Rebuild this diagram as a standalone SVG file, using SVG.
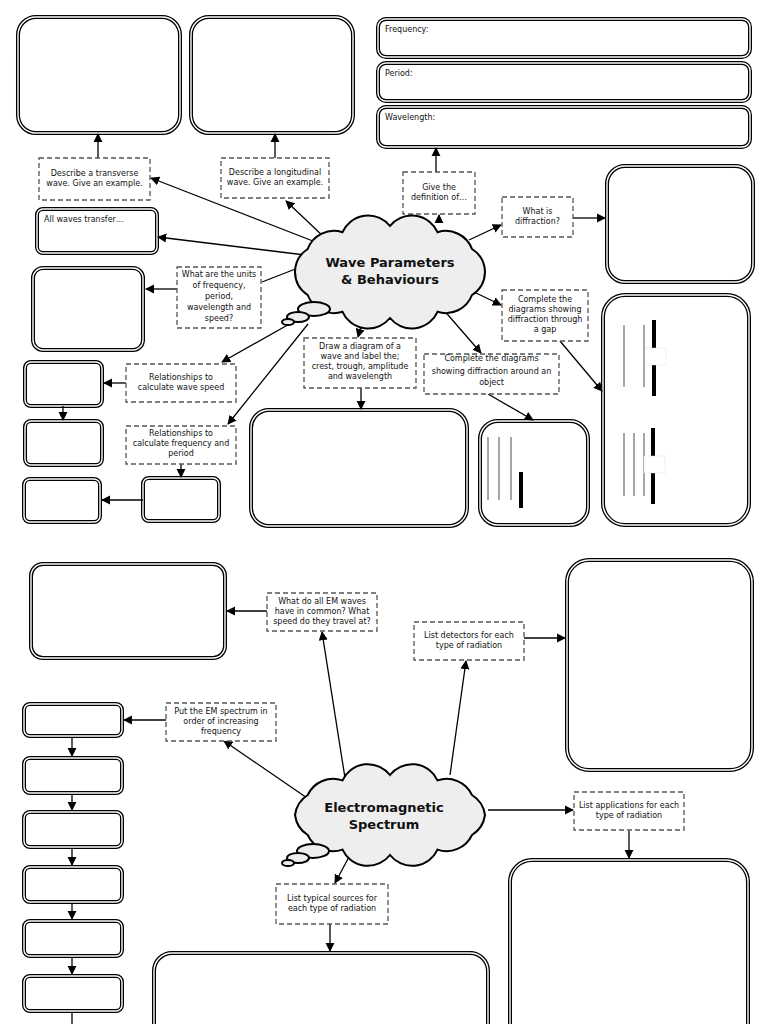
<svg xmlns="http://www.w3.org/2000/svg" width="768" height="1024" viewBox="0 0 768 1024">
<defs>
<marker id="ah" viewBox="0 0 10 10" refX="9" refY="5" markerWidth="7" markerHeight="7" orient="auto-start-reverse"><path d="M0,0 L10,5 L0,10 z" fill="#000"/></marker>
</defs>
<style>
.dbl{fill:#fff;stroke:#000;stroke-width:4}
.dbi{fill:none;stroke:#fff;stroke-width:1.4}
.dash{fill:#fff;stroke:#555;stroke-width:1.3;stroke-dasharray:5,3}
.t{font-family:"DejaVu Sans",sans-serif;font-size:8px;fill:#111;text-anchor:middle}
.tl{font-family:"DejaVu Sans",sans-serif;font-size:8px;fill:#111}
.title{font-family:"DejaVu Sans",sans-serif;font-size:13px;font-weight:bold;fill:#111;text-anchor:middle}
.cl{fill:#eee;stroke:#000;stroke-width:2}
.c path,.c line{stroke:#000;stroke-width:1.3;fill:none}
.g{stroke:#888;stroke-width:1.5}
.k{stroke:#000;stroke-width:4}
</style>
<rect width="768" height="1024" fill="#fff"/>
<g id="boxes">
<g id="bA"><rect class="dbl" x="18" y="17" width="162" height="116" rx="18"/><rect class="dbi" x="18" y="17" width="162" height="116" rx="18"/></g>
<g id="bB"><rect class="dbl" x="191" y="17" width="162" height="116" rx="18"/><rect class="dbi" x="191" y="17" width="162" height="116" rx="18"/></g>
<g id="freq"><rect class="dbl" x="378" y="19" width="372" height="38" rx="8"/><rect class="dbi" x="378" y="19" width="372" height="38" rx="8"/><text class="tl" x="385" y="32">Frequency:</text></g>
<g id="period"><rect class="dbl" x="378" y="63" width="372" height="38" rx="8"/><rect class="dbi" x="378" y="63" width="372" height="38" rx="8"/><text class="tl" x="385" y="76">Period:</text></g>
<g id="wavelength"><rect class="dbl" x="378" y="107" width="372" height="40" rx="8"/><rect class="dbi" x="378" y="107" width="372" height="40" rx="8"/><text class="tl" x="385" y="120">Wavelength:</text></g>
<g id="bDiff"><rect class="dbl" x="607" y="166" width="146" height="116" rx="18"/><rect class="dbi" x="607" y="166" width="146" height="116" rx="18"/></g>
<g id="allwaves"><rect class="dbl" x="37" y="209" width="120" height="44" rx="6"/><rect class="dbi" x="37" y="209" width="120" height="44" rx="6"/><text class="tl" x="44" y="222">All waves transfer…</text></g>
<g id="bUnits"><rect class="dbl" x="33" y="268" width="110" height="82" rx="10"/><rect class="dbi" x="33" y="268" width="110" height="82" rx="10"/></g>
<g id="s1"><rect class="dbl" x="25" y="362" width="77" height="44" rx="6"/><rect class="dbi" x="25" y="362" width="77" height="44" rx="6"/></g>
<g id="s2"><rect class="dbl" x="25" y="421" width="77" height="44" rx="6"/><rect class="dbi" x="25" y="421" width="77" height="44" rx="6"/></g>
<g id="s3"><rect class="dbl" x="24" y="479" width="76" height="43" rx="6"/><rect class="dbi" x="24" y="479" width="76" height="43" rx="6"/></g>
<g id="s4"><rect class="dbl" x="143" y="478" width="76" height="43" rx="6"/><rect class="dbi" x="143" y="478" width="76" height="43" rx="6"/></g>
<g id="bWave"><rect class="dbl" x="251" y="410" width="216" height="116" rx="18"/><rect class="dbi" x="251" y="410" width="216" height="116" rx="18"/></g>
<g id="bObj"><rect class="dbl" x="480" y="421" width="108" height="104" rx="18"/><rect class="dbi" x="480" y="421" width="108" height="104" rx="18"/>
<line class="g" x1="488" y1="437" x2="488" y2="500"/><line class="g" x1="499" y1="437" x2="499" y2="500"/><line class="g" x1="511" y1="437" x2="511" y2="500"/><line class="k" x1="521" y1="472" x2="521" y2="508"/></g>
<g id="bGap"><rect class="dbl" x="603" y="295" width="146" height="230" rx="22"/><rect class="dbi" x="603" y="295" width="146" height="230" rx="22"/>
<line class="g" x1="624" y1="325" x2="624" y2="387"/><line class="g" x1="644" y1="325" x2="644" y2="387"/><line class="k" x1="654" y1="320" x2="654" y2="396"/><rect x="645" y="348" width="21" height="17" fill="#fff" stroke="#ddd" stroke-width="0.5"/>
<line class="g" x1="624" y1="433" x2="624" y2="496"/><line class="g" x1="634" y1="433" x2="634" y2="496"/><line class="g" x1="644" y1="433" x2="644" y2="496"/><line class="k" x1="653" y1="428" x2="653" y2="504"/><rect x="644" y="456" width="21" height="17" fill="#fff" stroke="#ddd" stroke-width="0.5"/></g>

<g id="bEM"><rect class="dbl" x="31" y="564" width="194" height="94" rx="12"/><rect class="dbi" x="31" y="564" width="194" height="94" rx="12"/></g>
<g id="bDet"><rect class="dbl" x="567" y="560" width="185" height="210" rx="22"/><rect class="dbi" x="567" y="560" width="185" height="210" rx="22"/></g>
<g id="c1"><rect class="dbl" x="24" y="704" width="98" height="32" rx="6"/><rect class="dbi" x="24" y="704" width="98" height="32" rx="6"/></g>
<g id="c2"><rect class="dbl" x="24" y="758" width="98" height="35" rx="6"/><rect class="dbi" x="24" y="758" width="98" height="35" rx="6"/></g>
<g id="c3"><rect class="dbl" x="24" y="812" width="98" height="35" rx="6"/><rect class="dbi" x="24" y="812" width="98" height="35" rx="6"/></g>
<g id="c4"><rect class="dbl" x="24" y="867" width="98" height="35" rx="6"/><rect class="dbi" x="24" y="867" width="98" height="35" rx="6"/></g>
<g id="c5"><rect class="dbl" x="24" y="921" width="98" height="35" rx="6"/><rect class="dbi" x="24" y="921" width="98" height="35" rx="6"/></g>
<g id="c6"><rect class="dbl" x="24" y="976" width="98" height="35" rx="6"/><rect class="dbi" x="24" y="976" width="98" height="35" rx="6"/></g>
<g id="bApp"><rect class="dbl" x="510" y="860" width="238" height="200" rx="22"/><rect class="dbi" x="510" y="860" width="238" height="200" rx="22"/></g>
<g id="bSrc"><rect class="dbl" x="154" y="953" width="334" height="100" rx="18"/><rect class="dbi" x="154" y="953" width="334" height="100" rx="18"/></g>
</g>

<g id="connectors" class="c">
<line x1="98" y1="158" x2="98" y2="134" marker-end="url(#ah)"/>
<line x1="275" y1="158" x2="275" y2="134" marker-end="url(#ah)"/>
<line x1="436" y1="172" x2="436" y2="148" marker-end="url(#ah)"/>
<line x1="573" y1="218" x2="605" y2="218" marker-end="url(#ah)"/>
<line x1="318" y1="243" x2="151" y2="178" marker-end="url(#ah)"/>
<line x1="325" y1="238" x2="286" y2="201" marker-end="url(#ah)"/>
<line x1="305" y1="255" x2="158" y2="237" marker-end="url(#ah)"/>
<line x1="298" y1="268" x2="262" y2="282"/>
<line x1="177" y1="289" x2="146" y2="289" marker-end="url(#ah)"/>
<line x1="300" y1="318" x2="222" y2="362" marker-end="url(#ah)"/>
<line x1="308" y1="324" x2="228" y2="424" marker-end="url(#ah)"/>
<line x1="364" y1="315" x2="358" y2="337" marker-end="url(#ah)"/>
<line x1="439" y1="221" x2="439" y2="215" marker-end="url(#ah)"/>
<line x1="469" y1="240" x2="501" y2="225" marker-end="url(#ah)"/>
<line x1="474" y1="292" x2="501" y2="305" marker-end="url(#ah)"/>
<line x1="442" y1="308" x2="481" y2="353" marker-end="url(#ah)"/>
<line x1="361" y1="388" x2="361" y2="409" marker-end="url(#ah)"/>
<line x1="488" y1="394" x2="533" y2="420" marker-end="url(#ah)"/>
<line x1="560" y1="341" x2="602" y2="391" marker-end="url(#ah)"/>
<line x1="126" y1="383" x2="104" y2="383" marker-end="url(#ah)"/>
<line x1="63" y1="406" x2="63" y2="420" marker-end="url(#ah)"/>
<line x1="181" y1="464" x2="181" y2="477" marker-end="url(#ah)"/>
<line x1="143" y1="500" x2="102" y2="500" marker-end="url(#ah)"/>

<line x1="345" y1="778" x2="322" y2="632" marker-end="url(#ah)"/>
<line x1="267" y1="611" x2="227" y2="611" marker-end="url(#ah)"/>
<line x1="450" y1="775" x2="466" y2="661" marker-end="url(#ah)"/>
<line x1="524" y1="638" x2="565" y2="638" marker-end="url(#ah)"/>
<line x1="310" y1="800" x2="224" y2="741" marker-end="url(#ah)"/>
<line x1="166" y1="720" x2="124" y2="720" marker-end="url(#ah)"/>
<line x1="488" y1="810" x2="573" y2="810" marker-end="url(#ah)"/>
<line x1="629" y1="831" x2="629" y2="858" marker-end="url(#ah)"/>
<line x1="350" y1="855" x2="335" y2="883" marker-end="url(#ah)"/>
<line x1="330" y1="924" x2="330" y2="951" marker-end="url(#ah)"/>
<line x1="72" y1="737" x2="72" y2="756" marker-end="url(#ah)"/>
<line x1="72" y1="794" x2="72" y2="810" marker-end="url(#ah)"/>
<line x1="72" y1="848" x2="72" y2="865" marker-end="url(#ah)"/>
<line x1="72" y1="903" x2="72" y2="919" marker-end="url(#ah)"/>
<line x1="72" y1="957" x2="72" y2="974" marker-end="url(#ah)"/>
<line x1="72" y1="1012" x2="72" y2="1024"/>
</g>

<g id="labels">
<g id="q1"><rect class="dash" x="39" y="158" width="111" height="42"/><text class="t" x="94.5" y="176">Describe a transverse</text><text class="t" x="94.5" y="186">wave. Give an example.</text></g>
<g id="q2"><rect class="dash" x="221" y="158" width="108" height="40"/><text class="t" x="275" y="175">Describe a longitudinal</text><text class="t" x="275" y="185">wave. Give an example.</text></g>
<g id="q3"><rect class="dash" x="403" y="172" width="72" height="42"/><text class="t" x="439" y="190">Give the</text><text class="t" x="439" y="200">definition of…</text></g>
<g id="q4"><rect class="dash" x="502" y="197" width="71" height="40"/><text class="t" x="537.5" y="214">What is</text><text class="t" x="537.5" y="224">diffraction?</text></g>
<g id="q5"><rect class="dash" x="177" y="267" width="84" height="61"/><text class="t" x="219" y="277">What are the units</text><text class="t" x="219" y="288">of frequency,</text><text class="t" x="219" y="299">period,</text><text class="t" x="219" y="310">wavelength and</text><text class="t" x="219" y="321">speed?</text></g>
<g id="q6"><rect class="dash" x="502" y="290" width="86" height="51"/><text class="t" x="545" y="302">Complete the</text><text class="t" x="545" y="312">diagrams showing</text><text class="t" x="545" y="322">diffraction through</text><text class="t" x="545" y="332">a gap</text></g>
<g id="q7"><rect class="dash" x="304" y="338" width="112" height="50"/><text class="t" x="360" y="349">Draw a diagram of a</text><text class="t" x="360" y="359">wave and label the;</text><text class="t" x="360" y="369">crest, trough, amplitude</text><text class="t" x="360" y="379">and wavelength</text></g>
<g id="q8"><rect class="dash" x="424" y="354" width="135" height="40"/><text class="t" x="491.5" y="361">Complete the diagrams</text><text class="t" x="491.5" y="374">showing diffraction around an</text><text class="t" x="491.5" y="385">object</text></g>
<g id="q9"><rect class="dash" x="126" y="364" width="110" height="38"/><text class="t" x="181" y="380">Relationships to</text><text class="t" x="181" y="390">calculate wave speed</text></g>
<g id="q10"><rect class="dash" x="126" y="426" width="110" height="38"/><text class="t" x="181" y="436">Relationships to</text><text class="t" x="181" y="446">calculate frequency and</text><text class="t" x="181" y="456">period</text></g>
<g id="q11"><rect class="dash" x="267" y="593" width="110" height="38"/><text class="t" x="322" y="604">What do all EM waves</text><text class="t" x="322" y="614">have in common? What</text><text class="t" x="322" y="624">speed do they travel at?</text></g>
<g id="q12"><rect class="dash" x="414" y="622" width="110" height="38"/><text class="t" x="469" y="638">List detectors for each</text><text class="t" x="469" y="648">type of radiation</text></g>
<g id="q13"><rect class="dash" x="166" y="703" width="110" height="38"/><text class="t" x="221" y="714">Put the EM spectrum in</text><text class="t" x="221" y="724">order of increasing</text><text class="t" x="221" y="734">frequency</text></g>
<g id="q14"><rect class="dash" x="574" y="792" width="110" height="38"/><text class="t" x="629" y="808">List applications for each</text><text class="t" x="629" y="818">type of radiation</text></g>
<g id="q15"><rect class="dash" x="276" y="884" width="112" height="40"/><text class="t" x="332" y="901">List typical sources for</text><text class="t" x="332" y="911">each type of radiation</text></g>
</g>

<g id="cloud1">
<path class="cl" d="M485,272 A28,28 0 0 1 472,295 A28,28 0 0 1 437.5,311.8 A28,28 0 0 1 390,318 A28,28 0 0 1 342.5,311.8 A28,28 0 0 1 307.7,295 A28,28 0 0 1 295,272 A28,28 0 0 1 307.7,249 A28,28 0 0 1 342.5,232.2 A28,28 0 0 1 390,226 A28,28 0 0 1 437.5,232.2 A28,28 0 0 1 472,249 A28,28 0 0 1 485,272 Z"/>
<ellipse class="cl" cx="314" cy="309" rx="16" ry="7"/><ellipse class="cl" cx="298" cy="317" rx="11" ry="5"/><ellipse class="cl" cx="288" cy="322" rx="6" ry="3"/>
<text class="title" x="390" y="267">Wave Parameters</text><text class="title" x="390" y="284">&amp; Behaviours</text>
</g>
<g id="cloud2">
<path class="cl" d="M485,815 A28,28 0 0 1 472,835 A28,28 0 0 1 437.5,849.6 A28,28 0 0 1 390,855 A28,28 0 0 1 342.5,849.6 A28,28 0 0 1 307.7,835 A28,28 0 0 1 295,815 A28,28 0 0 1 307.7,795 A28,28 0 0 1 342.5,780.4 A28,28 0 0 1 390,775 A28,28 0 0 1 437.5,780.4 A28,28 0 0 1 472,795 A28,28 0 0 1 485,815 Z"/>
<ellipse class="cl" cx="313" cy="851" rx="16" ry="7"/><ellipse class="cl" cx="298" cy="858" rx="11" ry="5"/><ellipse class="cl" cx="288" cy="863" rx="6" ry="3"/>
<text class="title" x="384" y="812">Electromagnetic</text><text class="title" x="384" y="829">Spectrum</text>
</g>
</svg>
